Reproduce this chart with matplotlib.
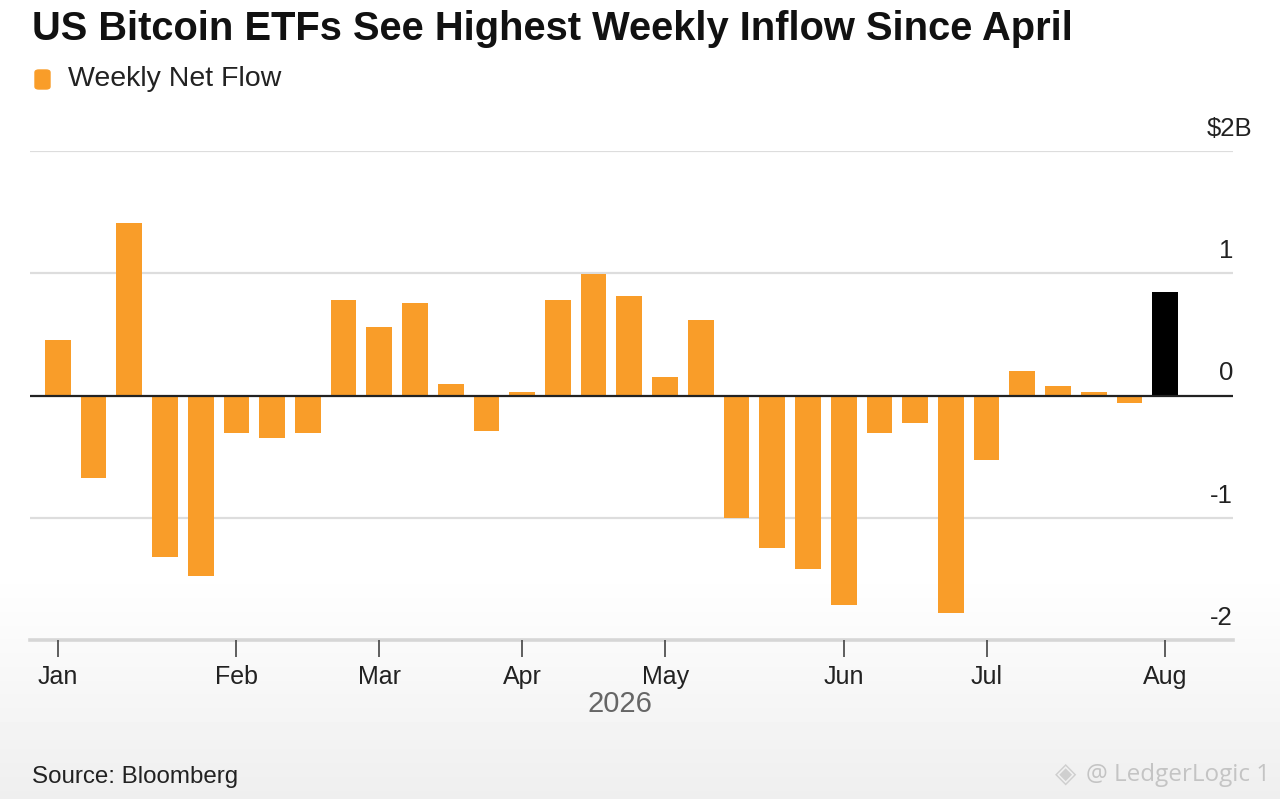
import matplotlib
matplotlib.use('Agg')
import matplotlib.pyplot as plt
import matplotlib.transforms as mtransforms
import numpy as np

# weekly net flow, $ billions (last bar = latest week, highlighted)
flows = [0.455, -0.675, 1.41, -1.32, -1.48, -0.31, -0.35, -0.31,
         0.78, 0.56, 0.76, 0.095, -0.29, 0.025, 0.78, 0.99,
         0.815, 0.15, 0.62, -1.0, -1.25, -1.42, -1.71, -0.31,
         -0.225, -1.78, -0.53, 0.2, 0.077, 0.03, -0.06, 0.845]
month_labels = ['Jan', 'Feb', 'Mar', 'Apr', 'May', 'Jun', 'Jul', 'Aug']
month_week_idx = [0, 5, 9, 13, 17, 22, 26, 31]
y_ticks = [2, 1, 0, -1, -2]
y_tick_labels = ['$2B', '1', '0', '-1', '-2']

ORANGE = '#f99d29'
FONT = 'Liberation Sans'
plt.rcParams['font.family'] = [FONT, 'DejaVu Sans']

fig = plt.figure(figsize=(12.8, 7.99), dpi=100)

# background: white fading to light grey at the bottom
bg = fig.add_axes([0, 0, 1, 1], zorder=-10)
grad = np.ones((799, 1))
rows = np.arange(799)
start = 570
grad[rows > start, 0] = 1 - 0.065 * ((rows[rows > start] - start) / (799 - start))
bg.imshow(grad, aspect='auto', cmap='gray', vmin=0, vmax=1, extent=[0, 1, 0, 1])
bg.axis('off')

ax = fig.add_axes([30 / 1280, 1 - 640 / 799, 1203 / 1280, 489 / 799])
ax.patch.set_alpha(0)

x = np.arange(len(flows))
colors = [ORANGE] * (len(flows) - 1) + ['#000000']
ax.bar(x, flows, width=0.72, color=colors, zorder=3)

ax.set_xlim(-0.78, 32.9)
ax.set_ylim(-2, 2)

for yv in [2, 1, -1]:
    ax.axhline(yv, color='#dddddd', lw=1.6, zorder=1)
ax.axhline(-2, color='#d6d6d6', lw=2.6, zorder=1, clip_on=False)
ax.axhline(0, color='#222222', lw=1.6, zorder=4)

for s in ax.spines.values():
    s.set_visible(False)
ax.set_yticks([])
ax.set_xticks(month_week_idx)
ax.set_xticklabels(month_labels, fontsize=18, color='#222222')
ax.tick_params(axis='x', length=12, width=1.2, color='#444444', pad=6)

trans = mtransforms.blended_transform_factory(ax.transAxes, ax.transData)
lab_trans = mtransforms.offset_copy(trans, fig=fig, x=0, y=15, units='dots')
for yv, lab in zip(y_ticks, y_tick_labels):
    xo = 1.0 + (19 / 1203 if lab.startswith('$') else 0)
    ax.text(xo, yv, lab, transform=lab_trans, ha='right', va='baseline',
            fontsize=18.5, color='#222222')

ax.text(0.49, -0.131, '2026', transform=ax.transAxes, ha='center', va='center',
        fontsize=21, color='#666666')

fig.text(32 / 1280, 1 - 29 / 799, 'US Bitcoin ETFs See Highest Weekly Inflow Since April',
         fontsize=28.7, fontweight='bold', ha='left', va='center', color='#111111')

fig.patches.append(matplotlib.patches.FancyBboxPatch(
    (35 / 1280, 1 - 89 / 799), 15 / 1280, 19 / 799,
    boxstyle='round,pad=0,rounding_size=0.003', transform=fig.transFigure,
    color=ORANGE, figure=fig))
fig.text(68 / 1280, 1 - 79 / 799, 'Weekly Net Flow', fontsize=20.5,
         ha='left', va='center', color='#222222')

fig.text(32 / 1280, 1 - 777 / 799, 'Source: Bloomberg', fontsize=17.4,
         ha='left', va='center', color='#222222')
fig.text(1066 / 1280, 1 - 774 / 799, '\u25c8', fontsize=20,
         ha='center', va='center', color='#cfcfcf', family='DejaVu Sans')
fig.text(1270 / 1280, 1 - 775 / 799, '@ LedgerLogic 1', fontsize=17.5,
         ha='right', va='center', color='#c4c4c4', family='Open Sans')

fig.savefig('out.png', dpi=100)
plt.close(fig)
